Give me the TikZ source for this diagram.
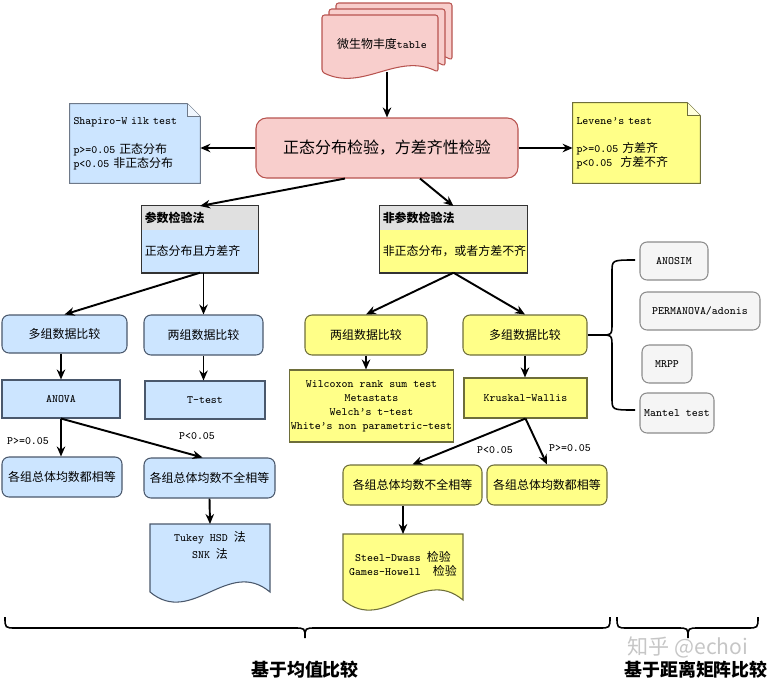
\documentclass[tikz,border=0pt]{standalone}
\usepackage{fontspec}
\setmainfont{Noto Sans CJK SC}
\usepackage{tikz}
\usetikzlibrary{arrows, arrows.meta, positioning, backgrounds}

\definecolor{pinkfill}{HTML}{F8CECC}
\definecolor{pinkline}{HTML}{B85450}
\definecolor{bluefill}{HTML}{CCE5FF}
\definecolor{blueline}{HTML}{4A586C}
\definecolor{yellowfill}{HTML}{FFFF88}
\definecolor{yellowline}{HTML}{6E6E3A}
\definecolor{grayfill}{HTML}{F5F5F5}
\definecolor{grayline}{HTML}{8C8C8C}
\definecolor{headfill}{HTML}{E0E0E0}
\definecolor{darkline}{HTML}{333333}

\newcommand{\en}[1]{{\ttfamily\fontsize{6.4}{8}\selectfont #1}}
% document shape: style, left, top, right, side bottom, wave
\newcommand{\docshape}[6]{%
	\draw[#1] (#2,#3) -- (#4,#3) -- (#4,#5)
		.. controls ({#4-0.35*(#4-#2)},{#5-#6}) and ({#2+0.35*(#4-#2)},{#5+#6}) .. (#2,#5) -- cycle;}

\tikzset{
	base/.style={
		rectangle,
		line width=0.6pt,
		text centered,
		inner sep=1pt,
		font=\fontsize{6.8}{8}\selectfont
	},
	pinkbox/.style={base, rounded corners=6pt, draw=pinkline, fill=pinkfill, font=\fontsize{9.1}{11}\selectfont},
	bluebox/.style={base, rounded corners=4pt, draw=blueline, fill=bluefill},
	yellowbox/.style={base, rounded corners=4pt, draw=yellowline, fill=yellowfill},
	bluerect/.style={base, draw=blueline, fill=bluefill},
	yellowrect/.style={base, draw=yellowline, fill=yellowfill},
	graybox/.style={base, rounded corners=4pt, draw=grayline, fill=grayfill},
	entext/.style={font=\ttfamily\fontsize{6.4}{8}\selectfont},
	headbox/.style={
		rectangle,
		fill=headfill,
		minimum height=0.4cm,
		inner xsep=1.5pt,
		align=left,
		font=\bfseries\fontsize{6.8}{8}\selectfont
	},
	bodybox/.style={
		rectangle,
		minimum height=0.84cm,
		inner xsep=1.5pt,
		align=left,
		font=\fontsize{6.8}{8}\selectfont
	},
	frame/.style={draw=darkline, line width=1.1pt},
	note/.style={rectangle, inner xsep=2pt, align=left, font=\fontsize{6.8}{8}\selectfont},
	doctext/.style={rectangle, anchor=north, inner xsep=1pt, align=center, font=\fontsize{6.8}{8}\selectfont},
	docpink/.style={draw=pinkline, line width=0.6pt, fill=pinkfill, rounded corners=1.5pt},
	docblue/.style={draw=blueline, line width=0.6pt, fill=bluefill},
	docyellow/.style={draw=yellowline, line width=0.6pt, fill=yellowfill},
	plabel/.style={font=\ttfamily\fontsize{6.4}{8}\selectfont, inner sep=0pt},
	arrow/.style={line width=1.1pt,->,>={Stealth[length=2mm,width=1.7mm]}},
	bracket/.style={line width=0.9pt}
}

\begin{document}
\begin{tikzpicture}[x=0.2mm, y=-0.2mm]
	\useasboundingbox (0,0) rectangle (770,680);

	% input tables
	\docshape{docpink}{336}{3}{452}{60}{20}
	\docshape{docpink}{329}{9}{445}{66}{20}
	\docshape{docpink}{322}{15}{438}{72}{20}
	\node (table) [rectangle, minimum width=2.32cm, minimum height=1.14cm, font=\fontsize{6.8}{8}\selectfont] at (382,43.5) {微生物丰度\en{table}};

	\node (check) [pinkbox, minimum width=5.24cm, minimum height=1.2cm] at (387,148) {正态分布检验，方差齐性检验};

	% test notes
	\node (shapiro) [note, text width=2.46cm, minimum height=1.58cm] at (135,143.5)
		{\en{Shapiro-W ilk test}\\[8.5pt]\en{p>=0.05 }正态分布\\\en{p<0.05 }非正态分布};
	\node (levene) [note, text width=2.4cm, minimum height=1.6cm] at (636.5,143)
		{\en{Levene’s test}\\[8pt]\en{p>=0.05 }方差齐\\\en{p<0.05\ \ }方差不齐};

	% parametric / non-parametric
	\node (phead) [headbox, text width=2.21cm] at (200,218) {参数检验法};
	\node (pbody) [bodybox, fill=bluefill, text width=2.21cm, below=0cm of phead] {正态分布且方差齐};
	\node (nhead) [headbox, text width=2.83cm] at (453.5,218) {非参数检验法};
	\node (nbody) [bodybox, fill=yellowfill, text width=2.83cm, below=0cm of nhead] {非正态分布，或者方差不齐};

	% parametric branch
	\node (pmulti) [bluebox, minimum width=2.5cm, minimum height=0.76cm] at (64.5,334) {多组数据比较};
	\node (ptwo) [bluebox, minimum width=2.38cm, minimum height=0.8cm] at (203.5,335) {两组数据比较};
	\node (anova) [bluerect, entext, minimum width=2.36cm, minimum height=0.76cm] at (61,399) {ANOVA};
	\node (ttest) [bluerect, entext, minimum width=2.4cm, minimum height=0.76cm] at (205,400) {T-test};
	\node (pequal) [bluebox, minimum width=2.4cm, minimum height=0.8cm] at (62,477) {各组总体均数都相等};
	\node (pdiff) [bluebox, minimum width=2.62cm, minimum height=0.8cm] at (209.5,478) {各组总体均数不全相等};
	\node (tukey) [doctext, inner ysep=4.3pt, font=\fontsize{6.8}{9.5}\selectfont] at (210,524) {\en{Tukey HSD }法\\\en{SNK }法};
	\node (pge) [plabel] at (28,441) {P>=0.05};
	\node (plt) [plabel] at (197,436) {P<0.05};

	% non-parametric branch
	\node (ntwo) [yellowbox, minimum width=2.44cm, minimum height=0.8cm] at (366,335) {两组数据比较};
	\node (nmulti) [yellowbox, minimum width=2.48cm, minimum height=0.8cm] at (525,335) {多组数据比较};
	\node (wilcox) [yellowrect, entext, align=center, minimum width=3.26cm, minimum height=1.44cm] at (371.5,406)
		{Wilcoxon rank sum test\\Metastats\\Welch’s t-test\\White’s non parametric-test};
	\node (kruskal) [yellowrect, entext, minimum width=2.46cm, minimum height=0.8cm] at (525.5,398) {Kruskal-Wallis};
	\node (ndiff) [yellowbox, minimum width=2.78cm, minimum height=0.8cm] at (412.5,485) {各组总体均数不全相等};
	\node (nequal) [yellowbox, minimum width=2.4cm, minimum height=0.8cm] at (547,485) {各组总体均数都相等};
	\node (steel) [doctext, inner ysep=9.4pt] at (403,534) {\en{Steel-Dwass }检验\\\en{Games-Howell\ \ }检验};
	\node (nlt) [plabel] at (495,450) {P<0.05};
	\node (nge) [plabel] at (570,448) {P>=0.05};

	% distance based tests
	\node (anosim) [graybox, entext, minimum width=1.36cm, minimum height=0.76cm] at (674,261) {ANOSIM};
	\node (permanova) [graybox, entext, minimum width=2.4cm, minimum height=0.76cm] at (700,311) {PERMANOVA/adonis};
	\node (mrpp) [graybox, entext, minimum width=1cm, minimum height=0.76cm] at (667,364) {MRPP};
	\node (mantel) [graybox, entext, minimum width=1.48cm, minimum height=0.8cm] at (677,413) {Mantel test};

	% bottom captions
	\node (meanlabel) [font=\bfseries\fontsize{10.2}{12}\selectfont] at (305,670) {基于均值比较};
	\node (distlabel) [font=\bfseries\fontsize{10.2}{12}\selectfont] at (696,670) {基于距离矩阵比较};
	\node (mark) [font=\fontsize{12}{12}\selectfont, text=gray!45] at (688,647) {知乎 @echoi};

	\begin{scope}[on background layer]
		\draw[frame] (phead.north west) rectangle (pbody.south east);
		\draw[frame] (nhead.north west) rectangle (nbody.south east);
		\draw[draw=blueline!80, line width=0.6pt, fill=bluefill] (shapiro.north west) -- ([xshift=-0.26cm]shapiro.north east)
			-- ([yshift=-0.26cm]shapiro.north east) -- (shapiro.south east) -- (shapiro.south west) -- cycle;
		\draw[draw=blueline!80, line width=0.6pt, fill=bluefill!30!white] ([xshift=-0.26cm]shapiro.north east)
			-- ([xshift=-0.26cm,yshift=-0.26cm]shapiro.north east) -- ([yshift=-0.26cm]shapiro.north east);
		\draw[draw=yellowline, line width=0.6pt, fill=yellowfill] (levene.north west) -- ([xshift=-0.26cm]levene.north east)
			-- ([yshift=-0.26cm]levene.north east) -- (levene.south east) -- (levene.south west) -- cycle;
		\draw[draw=yellowline, line width=0.6pt, fill=yellowfill!30!white] ([xshift=-0.26cm]levene.north east)
			-- ([xshift=-0.26cm,yshift=-0.26cm]levene.north east) -- ([yshift=-0.26cm]levene.north east);
		\docshape{docblue}{150}{524}{270}{592}{35}
		\docshape{docyellow}{343}{534}{463}{600}{35}
	\end{scope}

	\draw [arrow] (table.south -| check.north) -- (check.north);
	\draw [arrow] (check.west) -- (check.west -| shapiro.east);
	\draw [arrow] (check.east) -- (check.east -| levene.west);
	\draw [arrow] ([xshift=-0.84cm]check.south) -- (phead.north);
	\draw [arrow] ([xshift=0.66cm]check.south) -- (nhead.north);

	\draw [arrow] (pbody.south) -- (pmulti.north);
	\draw [arrow] (ptwo.north |- pbody.south) -- (ptwo.north);
	\draw [arrow] (anova.north |- pmulti.south) -- (anova.north);
	\draw [arrow] (ptwo.south) -- (ptwo.south |- ttest.north);
	\draw [arrow] (anova.south) -- (anova.south |- pequal.north);
	\draw [arrow] (anova.south) -- ([xshift=-0.14cm]pdiff.north);
	\draw [arrow] (pdiff.south) -- (tukey.north);

	\draw [arrow] (nbody.south) -- (ntwo.north);
	\draw [arrow] (nbody.south) -- (nmulti.north);
	\draw [arrow] (ntwo.south) -- (ntwo.south |- wilcox.north);
	\draw [arrow] (nmulti.south) -- (nmulti.south |- kruskal.north);
	\draw [arrow] (kruskal.south) -- (ndiff.north);
	\draw [arrow] (kruskal.south) -- (nequal.north);
	\draw [arrow] (steel.north |- ndiff.south) -- (steel.north);

	% braces
	\coordinate (sbtop) at (635,260);
	\coordinate (sbtip) at (600,335);
	\coordinate (sbbot) at (635,410);
	\draw [bracket] (nmulti.east) -- (sbtip);
	\draw [bracket] (sbtop) .. controls (612,260) .. (612,272) -- (612,323) .. controls (612,335) .. (sbtip)
		.. controls (612,335) .. (612,347) -- (612,398) .. controls (612,410) .. (sbbot);

	\coordinate (mbl) at (5,617);
	\coordinate (mbtip) at (305,638);
	\coordinate (mbr) at (610,617);
	\draw [bracket] (mbl) .. controls (5,628) .. (16,628) -- (294,628) .. controls (305,628) .. (mbtip)
		.. controls (305,628) .. (316,628) -- (599,628) .. controls (610,628) .. (mbr);

	\coordinate (dbl) at (617,617);
	\coordinate (dbtip) at (688,638);
	\coordinate (dbr) at (758,617);
	\draw [bracket] (dbl) .. controls (617,628) .. (628,628) -- (677,628) .. controls (688,628) .. (dbtip)
		.. controls (688,628) .. (699,628) -- (747,628) .. controls (758,628) .. (dbr);
\end{tikzpicture}
\end{document}
